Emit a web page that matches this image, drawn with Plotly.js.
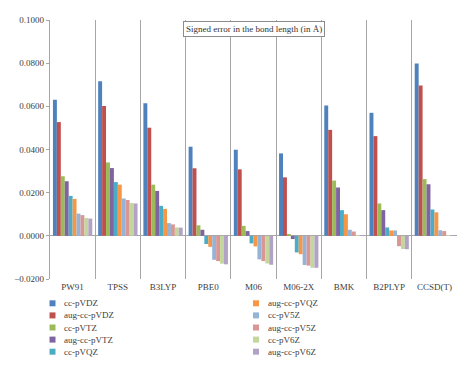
<!DOCTYPE html>
<html>
<head>
<meta charset="utf-8">
<script src="https://cdn.plot.ly/plotly-3.0.1.min.js"></script>
<style>html,body{margin:0;padding:0;background:#fff;}#chart{width:474px;height:372px;}</style>
</head>
<body>
<div id="chart"></div>
<script>
var categories = ['PW91','TPSS','B3LYP','PBE0','M06','M06-2X','BMK','B2PLYP','CCSD(T)'];
var seriesNames = ['cc-pVDZ','aug-cc-pVDZ','cc-pVTZ','aug-cc-pVTZ','cc-pVQZ','aug-cc-pVQZ','cc-pV5Z','aug-cc-pV5Z','cc-pV6Z','aug-cc-pV6Z'];
var ccpVDZ     = [0.0630, 0.0716, 0.0614, 0.0413, 0.0399, 0.0382, 0.0604, 0.0570, 0.0799];
var augccpVDZ  = [0.0527, 0.0602, 0.0501, 0.0313, 0.0308, 0.0271, 0.0491, 0.0462, 0.0696];
var ccpVTZ     = [0.0276, 0.0340, 0.0237, 0.0049, 0.0046, 0.0008, 0.0256, 0.0150, 0.0263];
var augccpVTZ  = [0.0253, 0.0314, 0.0208, 0.0028, 0.0022, -0.0015, 0.0224, 0.0119, 0.0239];
var ccpVQZ     = [0.0185, 0.0249, 0.0139, -0.0038, -0.0035, -0.0077, 0.0119, 0.0039, 0.0122];
var augccpVQZ  = [0.0171, 0.0237, 0.0125, -0.0051, -0.0049, -0.0085, 0.0100, 0.0025, 0.0109];
var ccpV5Z     = [0.0103, 0.0173, 0.0059, -0.0111, -0.0109, -0.0135, 0.0028, 0.0025, 0.0026];
var augccpV5Z  = [0.0096, 0.0166, 0.0053, -0.0117, -0.0117, -0.0138, 0.0020, -0.0048, 0.0022];
var ccpV6Z     = [0.0083, 0.0152, 0.0039, -0.0129, -0.0128, -0.0148, 0.0003, -0.0061, 0.0003];
var augccpV6Z  = [0.0080, 0.0150, 0.0038, -0.0132, -0.0134, -0.0148, 0.0003, -0.0062, 0.0003];
var seriesValues = [ccpVDZ, augccpVDZ, ccpVTZ, augccpVTZ, ccpVQZ, augccpVQZ, ccpV5Z, augccpV5Z, ccpV6Z, augccpV6Z];
var colors = ['#4F81BD','#C0504D','#9BBB59','#8064A2','#4BACC6','#F79646','#95B3D7','#D99694','#C3D69B','#B3A2C7'];
var titleText = 'Signed error in the bond length (in Å)';

var fontFam = '"Liberation Serif", "DejaVu Serif", serif';
var traces = seriesNames.map(function(n, i){
  return {type:'bar', name:n, x:categories, y:seriesValues[i], marker:{color:colors[i], line:{width:0}}, showlegend:false, hoverinfo:'x+y+name'};
});

// plot area in pixels
var L = 50, R = 457, T = 20, B = 279;
function px2xp(px){ return (px - L) / (R - L); }
function py2yp(py){ return (B - py) / (B - T); }

var shapes = [], annotations = [];
seriesNames.forEach(function(n, i){
  var col = Math.floor(i / 5), row = i % 5;
  var mx = col === 0 ? 52.5 : 256;
  var tx = col === 0 ? 62 : 265.5;
  var my = 303.3 + row * 12.1;
  shapes.push({type:'rect', xref:'paper', yref:'paper',
    x0:px2xp(mx-3), x1:px2xp(mx+3), y0:py2yp(my+3), y1:py2yp(my-3),
    fillcolor:colors[i], line:{width:0}});
  annotations.push({xref:'paper', yref:'paper', x:px2xp(tx), y:py2yp(my), xanchor:'left', yanchor:'middle',
    text:n, showarrow:false, font:{family:fontFam, size:9, color:'#404040'}});
});
annotations.push({xref:'paper', yref:'paper', x:px2xp(254), y:py2yp(28.7), xanchor:'center', yanchor:'middle',
  text:titleText, showarrow:false, bgcolor:'#ffffff', bordercolor:'#8c8c8c', borderwidth:1, borderpad:2,
  font:{family:fontFam, size:9, color:'#333333'}});

var layout = {
  width:474, height:372,
  margin:{l:L, r:474-R, t:T, b:372-B, pad:0},
  paper_bgcolor:'#ffffff', plot_bgcolor:'#ffffff',
  barmode:'group', bargap:0.13, bargroupgap:0,
  showlegend:false,
  font:{family:fontFam, size:9, color:'#404040'},
  xaxis:{type:'category', tickson:'boundaries', showgrid:true, gridcolor:'#a6a6a6', gridwidth:1.2,
    ticks:'', showline:false, zeroline:false, tickfont:{family:fontFam, size:9, color:'#404040'}, ticklabelstandoff:1},
  yaxis:{range:[-0.02, 0.1], dtick:0.02, tick0:0, tickformat:'.4f', showgrid:false,
    zeroline:true, zerolinecolor:'#a6a6a6', zerolinewidth:1.2,
    showline:true, linecolor:'#a6a6a6', linewidth:1.2, ticks:'outside', ticklen:3, tickcolor:'#a6a6a6',
    tickfont:{family:fontFam, size:9, color:'#404040'}},
  shapes:shapes,
  annotations:annotations
};
Plotly.newPlot('chart', traces, layout, {displayModeBar:false, responsive:false});
</script>
</body>
</html>
